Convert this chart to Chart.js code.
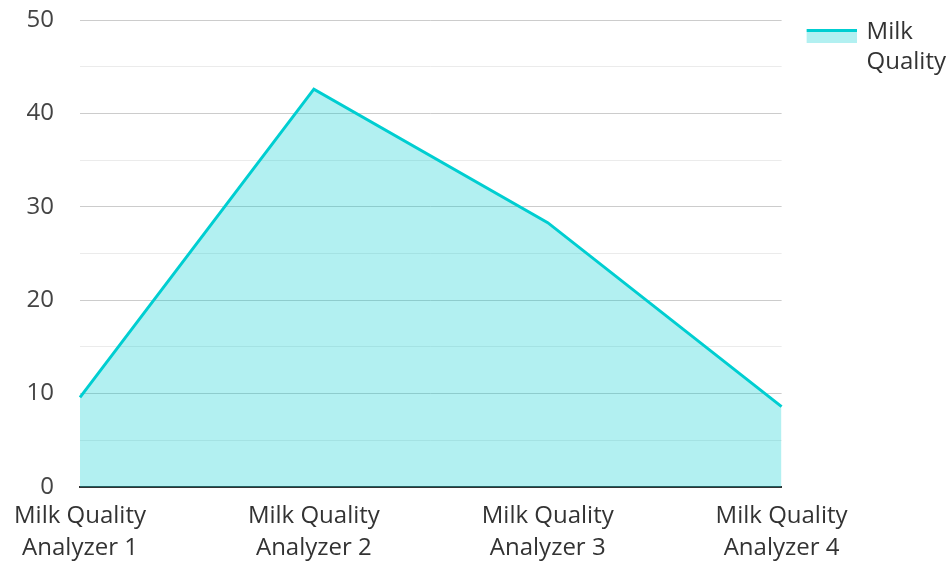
<!DOCTYPE html>
<html>
<head>
<meta charset="utf-8">
<script src="https://cdn.jsdelivr.net/npm/chart.js@4.4.1/dist/chart.umd.min.js"></script>
<style>
  html, body { margin: 0; padding: 0; background: #fff; }
  #wrap { width: 952px; height: 562px; }
</style>
</head>
<body>
<div id="wrap"><canvas id="chart" width="952" height="562"></canvas></div>
<script>
// Categories and values
const categories = [
  ['Milk Quality', 'Analyzer 1'],
  ['Milk Quality', 'Analyzer 2'],
  ['Milk Quality', 'Analyzer 3'],
  ['Milk Quality', 'Analyzer 4']
];
const milkQuality = [9.6, 42.6, 28.3, 8.6];
const seriesLabel = ['Milk', 'Quality'];

const lineColor = '#00CED1';
const fillColor = 'rgba(0, 206, 209, 0.3)';
const font = '"Open Sans", "Noto Sans", sans-serif';

// Legend swatch: light fill with a solid stripe on top, inset from the left
function makeSwatch() {
  const c = document.createElement('canvas');
  c.width = 77; c.height = 44;
  const g = c.getContext('2d');
  g.fillStyle = fillColor;
  g.fillRect(27, 19, 50, 14);
  g.fillStyle = lineColor;
  g.fillRect(27, 19, 50, 3);
  return c;
}
const swatch = makeSwatch();

new Chart(document.getElementById('chart'), {
  type: 'line',
  data: {
    labels: categories,
    datasets: [{
      label: seriesLabel,
      data: milkQuality,
      borderColor: lineColor,
      backgroundColor: fillColor,
      borderWidth: 3,
      fill: 'origin',
      tension: 0,
      pointRadius: 0,
      pointHoverRadius: 0
    }]
  },
  options: {
    responsive: false,
    animation: false,
    layout: { padding: { top: 20, right: -4, bottom: 0, left: 0 } },
    plugins: {
      tooltip: { enabled: false },
      legend: {
        position: 'right',
        align: 'start',
        labels: {
          usePointStyle: true,
          pointStyle: swatch,
          pointStyleWidth: 73,
          padding: 0,
          color: '#333',
          font: { family: font, size: 24, lineHeight: 1.25 },
          generateLabels(chart) {
            const items = Chart.defaults.plugins.legend.labels.generateLabels(chart);
            items.forEach(it => { it.pointStyle = swatch; it.text = seriesLabel; });
            return items;
          }
        }
      }
    },
    scales: {
      x: {
        offset: false,
        grid: { display: false, drawTicks: false },
        border: { display: true, color: '#333', width: 2 },
        ticks: {
          color: '#333',
          padding: 14,
          maxRotation: 0,
          autoSkip: false,
          font: { family: font, size: 24, lineHeight: 1.3 }
        },
        afterFit(scale) { scale.height = 75; }
      },
      y: {
        min: 0,
        max: 50,
        grid: {
          drawTicks: false,
          color: ctx => (ctx.tick && ctx.tick.value % 10 === 0) ? '#cccccc' : '#ebebeb',
          lineWidth: 1
        },
        border: { display: false },
        ticks: {
          stepSize: 5,
          padding: 26,
          color: '#444',
          font: { family: font, size: 24, lineHeight: 1.2 },
          callback: v => (v % 10 === 0 ? String(v) : '')
        },
        afterFit(scale) {
          scale.width = 80;
          scale.paddingTop = 0;
          scale.paddingBottom = 0;
        }
      }
    }
  }
});
</script>
</body>
</html>
